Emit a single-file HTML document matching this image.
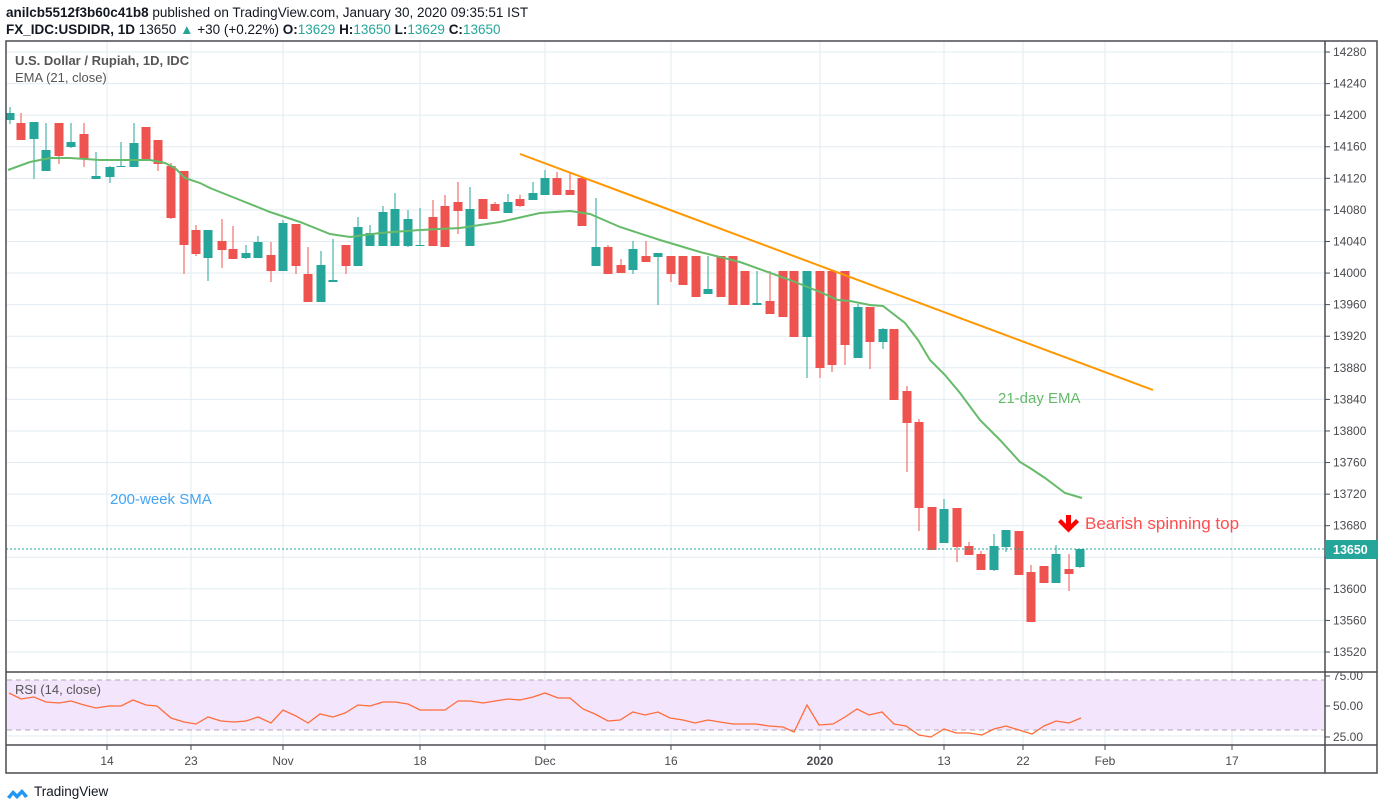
<!DOCTYPE html>
<html><head><meta charset="utf-8"><style>
body{margin:0;background:#fff;width:1380px;height:810px;overflow:hidden;font-family:"Liberation Sans",sans-serif}
svg{position:absolute;left:0;top:0}
</style></head><body>
<svg id="s" width="1380" height="810" xmlns="http://www.w3.org/2000/svg" font-family="Liberation Sans, sans-serif">
<text x="6" y="17" font-size="13.5" fill="#131722"><tspan font-weight="bold">anilcb5512f3b60c41b8</tspan> published on TradingView.com, January 30, 2020 09:35:51 IST</text>
<text x="6" y="34" font-size="13.5" fill="#131722"><tspan font-weight="bold">FX_IDC:USDIDR, 1D</tspan>  13650 <tspan fill="#26a69a">▲</tspan> +30 (+0.22%) <tspan font-weight="bold">O:</tspan><tspan fill="#26a69a">13629</tspan> <tspan font-weight="bold">H:</tspan><tspan fill="#26a69a">13650</tspan> <tspan font-weight="bold">L:</tspan><tspan fill="#26a69a">13629</tspan> <tspan font-weight="bold">C:</tspan><tspan fill="#26a69a">13650</tspan></text>
<g id="grid" stroke="#e1ecf2" stroke-width="1"></g>
<rect x="7" y="680" width="1317" height="50" fill="#f3e5fc"/>
<line x1="7" y1="680" x2="1324" y2="680" stroke="#b0a7b6" stroke-dasharray="5,4"/>
<line x1="7" y1="730" x2="1324" y2="730" stroke="#b0a7b6" stroke-dasharray="5,4"/>
<g id="c"></g>
<polyline fill="none" stroke="#66bb6a" stroke-width="2" points="8,170 30,162 50,158 70,158 100,160 130,160 150,160 165,163 175,168 185,178 200,183 210,188 240,200 270,212 300,222 330,234 350,237 380,233 420,230 460,228 500,222 540,213 570,211 590,214 620,227 660,240 700,252 740,262 790,280 820,292 838,300 850,301 870,305 883,306 905,323 918,340 930,360 945,375 960,393 980,420 1000,440 1020,462 1030,468 1045,478 1065,493 1082,498"/>
<line x1="520" y1="154" x2="1153" y2="390" stroke="#ff9800" stroke-width="2"/>
<polyline fill="none" stroke="#ff6d3a" stroke-width="1.3" points="9,693 21,699 34,697 46,702 59,703 71,701 84,705 96,708 109,706 121,706 133,700 146,705 157,706 171,718 184,722 196,724 208,717 221,721 234,722 246,721 258,717 271,723 283,710 296,716 308,723 320,714 333,717 345,713 358,705 370,706 383,702 395,702 408,704 420,710 445,710 458,701 470,701 483,703 495,701 508,699 520,700 533,697 545,693 558,698 570,698 583,709 595,714 608,721 620,720 633,712 645,715 658,712 670,718 683,720 695,723 708,720 720,722 733,724 756,724 769,726 783,727 794,732 807,705 819,725 833,724 845,717 857,709 869,715 882,712 894,724 906,726 919,735 931,737 944,729 956,733 969,733 982,735 994,729 1006,726 1019,730 1032,734 1044,726 1056,721 1069,723 1081,718"/>
<line x1="6" y1="549" x2="1325" y2="549" stroke="#26a69a" stroke-dasharray="2,2"/>
<text x="998" y="403" font-size="15" fill="#66bb6a">21-day EMA</text>
<text x="110" y="504" font-size="15" fill="#42a5f5">200-week SMA</text>
<text x="1085" y="529" font-size="17" fill="#ff4d4d">Bearish spinning top</text>
<path d="M1066,515 h5 v9 l5,-5 l3,3 l-10.5,10.5 l-10.5,-10.5 l3,-3 l5,5z" fill="#ff0000"/>
<text x="15" y="65" font-size="13" fill="#555" font-weight="bold">U.S. Dollar / Rupiah, 1D, IDC</text>
<text x="15" y="82" font-size="13" fill="#555">EMA (21, close)</text>
<text x="15" y="694" font-size="13" fill="#555">RSI (14, close)</text>
<g fill="none" stroke="#4a4a50" stroke-width="1.5">
<rect x="6" y="41" width="1371" height="732"/>
<line x1="1325" y1="41" x2="1325" y2="773"/>
<line x1="6" y1="672" x2="1377" y2="672"/>
<line x1="6" y1="745" x2="1377" y2="745"/>
</g>
<g id="ax" font-size="12" fill="#4a4a50"></g>
<rect x="1326" y="540" width="52" height="19" fill="#26a69a"/>
<text x="1333" y="554" font-size="12.5" fill="#fff" font-weight="bold">13650</text>
<path d="M7,797 l6,-7 l4,4 l5,-5 l6,7 l-3,2 l-3,-4 l-5,5 l-4,-4 l-3,4z" fill="#2196f3"/>
<text x="34" y="796" font-size="13.5" fill="#131722">TradingView</text>
</svg>
<script>
var NS="http://www.w3.org/2000/svg";
function el(p,t,a,txt){var e=document.createElementNS(NS,t);for(var k in a)e.setAttribute(k,a[k]);if(txt)e.textContent=txt;document.getElementById(p).appendChild(e);}
// grid
for(var i=0;i<=19;i++){var y=52+i*31.58;el("grid","line",{x1:7,x2:1325,y1:y,y2:y});
el("ax","line",{x1:1325,x2:1330,y1:y,y2:y,stroke:"#4a4a50"});
if(14280-40*i!=13640)el("ax","text",{x:1333,y:y+4},String(14280-40*i));}
[705,736].forEach(function(y){el("grid","line",{x1:7,x2:1325,y1:y,y2:y});});
[["75.00",676],["50.00",706],["25.00",737]].forEach(function(a){el("ax","line",{x1:1325,x2:1330,y1:a[1],y2:a[1],stroke:"#4a4a50"});el("ax","text",{x:1333,y:a[1]+4},a[0]);});
[[107,"14"],[191,"23"],[283,"Nov"],[420,"18"],[545,"Dec"],[671,"16"],[820,"2020"],[944,"13"],[1023,"22"],[1105,"Feb"],[1232,"17"]].forEach(function(a){
el("grid","line",{x1:a[0],x2:a[0],y1:41,y2:745});
el("ax","line",{x1:a[0],x2:a[0],y1:745,y2:750,stroke:"#4a4a50"});
el("ax","text",{x:a[0],y:765,"text-anchor":"middle","font-weight":a[1]=="2020"?"bold":"normal"},a[1]);});
var C="G10,113,120,107,124 R21,123,140,113,140 G34,122,139,122,179 G46,150,171,123,171 R59,123,156,123,164 G71,142,147,123,148 R84,134,159,123,167 G96,176,179,152,179 G110,167,177,166,183 G121,166,167,142,167 G134,143,167,123,167 R146,127,161,127,161 R158,140,164,140,171 R171,166,218,163,219 R184,171,245,171,274 R196,230,254,225,256 G208,230,258,230,281 R222,241,250,219,268 R233,249,259,226,259 G246,253,258,245,259 G258,242,258,236,258 R271,255,271,242,282 G283,223,271,220,271 R296,224,266,224,274 R308,274,302,247,302 G321,265,302,251,302 G333,280,282,239,282 R346,245,266,245,274 G358,227,266,217,266 G370,233,246,225,246 G383,212,246,206,246 G395,209,246,193,246 G408,219,246,210,247 G420,245,246,208,246 R433,217,246,200,246 R445,206,247,195,247 R458,202,211,182,234 G470,209,246,187,246 R483,199,219,199,219 R495,204,211,202,211 G508,202,213,194,213 R520,199,206,195,207 G533,193,200,182,200 G545,178,195,170,195 R557,178,195,172,195 R570,190,195,173,195 R582,178,226,177,226 G596,247,266,198,266 R608,247,274,245,274 R621,265,273,259,273 G633,249,270,241,274 R646,256,262,241,262 G658,253,257,253,305 R671,256,274,256,282 R683,256,285,256,285 R696,256,297,256,297 G708,289,294,256,294 R721,256,297,256,297 R733,256,305,256,305 R745,271,305,271,305 G757,303,305,271,305 R770,301,314,271,314 R783,271,317,271,317 R794,271,337,271,337 G807,271,337,271,378 R820,271,368,271,378 R832,271,365,271,372 R845,271,345,271,365 G858,307,358,304,358 R870,307,342,307,369 G883,329,342,328,349 R894,329,400,329,400 R907,391,423,386,472 R919,422,508,419,531 R932,507,550,507,550 G944,509,543,499,543 R957,508,547,508,562 R969,546,555,542,555 R981,554,570,551,570 G994,546,570,534,571 G1006,530,547,530,552 R1019,531,575,531,575 R1031,572,622,565,622 R1044,566,583,566,583 G1056,554,583,545,583 R1069,569,574,554,591 G1080,549,567,549,568";
C.split(" ").forEach(function(s){var col=s[0]=="G"?"#26a69a":"#ef5350";var v=s.slice(1).split(",").map(Number);
el("c","line",{x1:v[0],x2:v[0],y1:v[3],y2:v[4],stroke:col,"stroke-width":1});
el("c","rect",{x:v[0]-4.5,y:v[1],width:9,height:Math.max(1,v[2]-v[1]),fill:col});});
</script>
</body></html>
